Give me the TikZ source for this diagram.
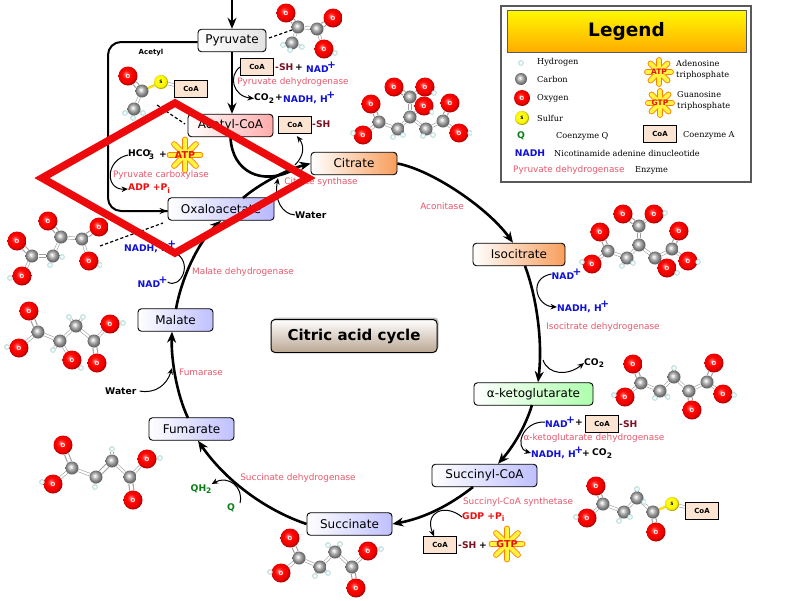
\documentclass[tikz,border=0pt]{standalone}
\usepackage{fontspec}
\setmainfont{DejaVu Sans}
\newfontfamily\legendfont{DejaVu Serif}
\usetikzlibrary{arrows.meta,shadows}
\pgfdeclarelayer{bg}
\pgfsetlayers{bg,main}

\definecolor{enzc}{RGB}{232,88,108}
\definecolor{nadc}{RGB}{16,16,215}
\definecolor{shc}{RGB}{122,16,32}
\definecolor{redc}{RGB}{236,16,16}
\definecolor{qc}{RGB}{10,125,20}
\definecolor{coac}{RGB}{252,228,210}
\definecolor{peach}{RGB}{248,158,92}
\definecolor{slash}{RGB}{236,10,12}

\pgfdeclareradialshading{oball}{\pgfpoint{-6bp}{6bp}}{color(0bp)=(white!65!red); color(6bp)=(red!80!white); color(12bp)=(red!95!orange); color(22bp)=(red!92!black); color(25bp)=(red!68!black); color(50bp)=(red!68!black)}
\pgfdeclareradialshading{cball}{\pgfpoint{-6bp}{6bp}}{color(0bp)=(white); color(7bp)=(gray!40); color(17bp)=(gray!90); color(25bp)=(black!62); color(50bp)=(black!62)}
\pgfdeclareradialshading{hball}{\pgfpoint{-6bp}{6bp}}{color(0bp)=(white); color(14bp)=(cyan!8); color(25bp)=(cyan!25!gray!70); color(50bp)=(cyan!25!gray!70)}
\pgfdeclareradialshading{sball}{\pgfpoint{-6bp}{6bp}}{color(0bp)=(white!60!yellow); color(8bp)=(yellow!90!white); color(21bp)=(yellow!90!orange); color(25bp)=(yellow!65!black); color(50bp)=(yellow!65!black)}

\newcommand\fsz[1]{\fontsize{#1}{#1}\selectfont}
\newcommand\up[1]{\kern-1.5pt\raisebox{.42em}{\fsz{10.5}#1}}
\newcommand\dn[1]{\raisebox{-.3em}{\fsz{7.5}#1}}

% name, atoms, single bonds, double bonds
\newcommand\molecule[4]{%
  \begin{scope}[name prefix=#1-]
    \foreach \n/\s/\x/\y in {#2}{\node[\s] (\n) at (\x,\y) {};}
    \begin{pgfonlayer}{bg}
      \foreach \a/\b in {#3}{\draw[bond] (\a) -- (\b);}
      \foreach \a/\b in {#4}{\draw[dbond] (\a) -- (\b);}
    \end{pgfonlayer}
  \end{scope}}

% name, x, y, radius, text
\newcommand\starbadge[5]{%
  \foreach \w/\c in {5.8/orange,4/yellow!75!white}{
    \foreach \t in {0,45,135,90}{
      \draw[line width=\w,line cap=round,\c] (#2,#3) ++(\t:#4) -- ++(\t+180:2*#4);
    }
  }
  \node[font=\bfseries\fsz{9.5},text=redc,inner sep=0] (#1) at (#2,#3) {#5};}

\tikzset{
  atomO/.style={circle,inner sep=0,minimum size=19,shading=oball,text=white,font=\bfseries\fsz{5.5},execute at begin node={O}},
  atomC/.style={circle,inner sep=0,minimum size=13,shading=cball,text=white,font=\fsz{3.5},execute at begin node={C}},
  atomH/.style={circle,inner sep=0,minimum size=5.5,shading=hball},
  atomS/.style={circle,inner sep=0,minimum size=14,shading=sball,text=black,font=\bfseries\fsz{4.5},execute at begin node={S}},
  bond/.style={draw=gray!75,line width=.6,double=white,double distance=2},
  dbond/.style={draw=gray!75,line width=1.1,double=white,double distance=3},
  sbond/.style={yellow!80!orange,line width=2.4},
  met/.style={draw=black,line width=.9,rounded corners=3.5,inner sep=0,minimum height=22.5,font=\fsz{12},left color=white},
  coa/.style={draw=black,line width=1,fill=coac,inner sep=0,minimum width=33,minimum height=16.5,font=\bfseries\fsz{7}},
  enz/.style={text=enzc,font=\fsz{8.9},inner sep=0},
  bl/.style={font=\bfseries\fsz{9.2},inner sep=0,anchor=west},
  nad/.style={bl,text=nadc},
  sh/.style={bl,text=shc},
  rd/.style={bl,text=redc},
  qq/.style={bl,text=qc},
  leg/.style={font=\legendfont\fsz{8.2},inner sep=0,anchor=west},
  cyc/.style={line width=2.6,-{Stealth[length=11,width=9]}},
  side/.style={line width=1,-{Stealth[length=6.5,width=5.5]}},
  dashlink/.style={line width=1.2,dash pattern=on 3.2 off 2.2},
}

\begin{document}
\begin{tikzpicture}[x=1pt,y=-1pt]
\useasboundingbox (0,0) rectangle (800,600);
\begin{pgfonlayer}{bg}
  \fill[white] (0,0) rectangle (800,600);
\end{pgfonlayer}

% metabolites
\node[met,right color=gray!22,minimum width=68] (pyr) at (232,40.5) {Pyruvate};
\node[met,right color=red!33,minimum width=85] (acoa) at (230.5,125.5) {Acetyl-CoA};
\node[met,right color=peach,minimum width=86] (cit) at (354,163.5) {Citrate};
\node[met,right color=blue!28,minimum width=106] (oxa) at (221,209) {Oxaloacetate};
\node[met,right color=peach,minimum width=92] (iso) at (519,254.5) {Isocitrate};
\node[met,right color=green!32,minimum width=119] (akg) at (533.5,394) {α-ketoglutarate};
\node[met,right color=blue!25,minimum width=105] (suc) at (484.5,475.5) {Succinyl-CoA};
\node[met,right color=blue!25,minimum width=85] (sin) at (349.5,524) {Succinate};
\node[met,right color=blue!25,minimum width=85] (fum) at (191.5,429) {Fumarate};
\node[met,right color=blue!25,minimum width=75] (mal) at (175.5,320) {Malate};
\node[draw=black,line width=1,rounded corners=4,inner sep=0,minimum width=166,minimum height=33,
  top color=white,bottom color=brown!45!gray!70,drop shadow={shadow xshift=1.5,shadow yshift=-2,opacity=.5},
  font=\bfseries\fsz{15}] (title) at (354,336) {Citric acid cycle};

% main cycle
\coordinate (topin) at (232,-2);
\coordinate (join) at (293,170);
\coordinate (ac1) at (108,42);
\coordinate (ac2) at (108,211);
\draw[cyc] (topin) -- (pyr.north);
\draw[cyc] (pyr.south) -- (pyr.south |- acoa.north);
\draw[line width=2,rounded corners=13] (pyr.west |- ac1) -- (ac1) -- (ac2) -- (oxa.west |- ac2);
\draw[-{Stealth[length=8,width=6]},line width=1.2] (130,211) -- (oxa.west |- ac2);
\draw[line width=2.6] (acoa.south) .. controls (232,172) and (262,186) .. (join);
\draw[cyc] (243,198) .. controls (258,185) and (285,170) .. (cit.west);
\draw[cyc] (cit.east) .. controls (432,170) and (488,208) .. (513,0 |- iso.north);
\draw[cyc] (525,266) .. controls (536,295) and (543,340) .. (538,0 |- akg.north);
\draw[cyc] (532,405) .. controls (525,428) and (512,448) .. (498,0 |- suc.north);
\draw[cyc] (473,487) .. controls (450,505) and (425,518) .. (sin.east);
\draw[cyc] (sin.west) .. controls (265,510) and (225,480) .. (198,0 |- fum.south);
\draw[cyc] (188,418) .. controls (177,395) and (171,360) .. (172,0 |- mal.south);
\draw[cyc] (176,309) .. controls (180,285) and (195,245) .. (oxa.south);

% cofactors: pyruvate dehydrogenase
\node[coa] (coa1) at (257,67) {CoA};
\node[sh] (sh1) at (275,67) {-SH};
\node[bl] (pl1) at (295,68) {+};
\node[nad] (nad1) at (306,67) {NAD\up{+}};
\node[enz] (pdh) at (293,82) {Pyruvate dehydrogenase};
\node[bl] (co2a) at (254,98.5) {CO\dn{2}};
\node[bl] (pl2) at (275,98) {+};
\node[nad] (nadh1) at (283,98) {NADH, H\up{+}};
\draw[side] (coa1.west) .. controls (228,76) and (233,96) .. (co2a.west);

% acetyl-CoA side
\node[font=\bfseries\fsz{7},inner sep=0] (acl) at (151,53) {Acetyl};
\node[coa] (coa2) at (191,89) {CoA};
\node[coa] (coa3) at (295,125) {CoA};
\node[sh] (sh3) at (312,124.5) {-SH};
\coordinate (cs1) at (295,165);
\draw[side,shorten >=3] (cs1) .. controls (305,155) and (304,145) .. (coa3.south);

% pyruvate carboxylase
\node[bl] (hco) at (128,155) {HCO\up{\fsz{7}-}\kern-3pt\dn{3}};
\node[bl] (pl3) at (159,155) {+};
\starbadge{atp}{185}{155}{15.5}{ATP}
\node[enz] (pc) at (161,175) {Pyruvate carboxylase};
\node[rd] (adp) at (128,189) {ADP +P\dn{i}};
\draw[side] (hco.west) .. controls (105,160) and (105,190) .. (adp.west);

% citrate synthase, water
\node[enz] (cs) at (321,182) {Citrate synthase};
\node[bl] (w1) at (295,215) {Water};
\coordinate (w1t) at (278,178);
\draw[side] (w1.west) .. controls (282,214) and (274,200) .. (w1t);

% aconitase and isocitrate dehydrogenase
\node[enz] (aco) at (442,206) {Aconitase};
\node[nad] (nad2) at (551.5,274) {NAD\up{+}};
\node[nad] (nadh2) at (557,307) {NADH, H\up{+}};
\draw[side] (nad2.west) .. controls (528,278) and (536,306) .. (nadh2.west);
\node[enz] (idh) at (603,327) {Isocitrate dehydrogenase};
\node[bl] (co2b) at (584,363) {CO\dn{2}};
\coordinate (co2s) at (543,360);
\draw[side] (co2s) .. controls (548,375) and (568,376) .. (co2b.west);

% ketoglutarate dehydrogenase
\node[nad] (nad3) at (545,422) {NAD\up{+}};
\node[bl] (pl4) at (575,423) {+};
\node[coa] (coa4) at (602,424) {CoA};
\node[sh] (sh4) at (619,424) {-SH};
\node[enz] (kdh) at (594,438) {α-ketoglutarate dehydrogenase};
\node[nad] (nadh3) at (531,453) {NADH, H\up{+}};
\node[bl] (pl5) at (582,454) {+};
\node[bl] (co2c) at (592,453.5) {CO\dn{2}};
\draw[side] (nad3.west) .. controls (522,421) and (514,448) .. (nadh3.west);

% succinyl-CoA synthetase
\node[enz] (scs) at (518,502) {Succinyl-CoA synthetase};
\node[rd] (gdp) at (462,517) {GDP +P\dn{i}};
\node[coa] (coa5) at (440,545) {CoA};
\node[sh] (sh5) at (458,545) {-SH};
\node[bl] (pl6) at (479,546) {+};
\starbadge{gtp}{507}{544}{15.5}{GTP}
\draw[side] (gdp.west) .. controls (445,503) and (424,512) .. (434,0 |- coa5.north);

% succinate dehydrogenase
\node[enz] (sdh) at (298,478) {Succinate dehydrogenase};
\node[qq] (qh) at (190.5,489) {QH\dn{2}};
\node[qq] (q1) at (227,508) {Q};
\coordinate (qtop) at (240,503);
\draw[side] (qtop) .. controls (244,487) and (228,475) .. (qh.north east);

% fumarase
\node[enz] (fma) at (201,372) {Fumarase};
\node[bl] (w2) at (105,391) {Water};
\coordinate (w2t) at (172,368);
\draw[side] (w2.east) ++(3,0) .. controls (155,394) and (167,385) .. (w2t);

% malate dehydrogenase
\node[enz] (mdh) at (243,272) {Malate dehydrogenase};
\node[nad] (nad4) at (137.5,282) {NAD\up{+}};
\node[nad] (nadh4) at (124,247) {NADH, H\up{+}};
\coordinate (nadt) at (170,250);
\draw[side] (nad4.east) .. controls (180,290) and (195,262) .. (nadt);

% molecules
\molecule{pyrm}{o1/atomO/286/13,o2/atomO/333/18,o3/atomO/324/49,c1/atomC/298/27,c2/atomC/317/29,c3/atomC/292/43,
  h1/atomH/283/45,h2/atomH/290/50,h3/atomH/302/47,h4/atomH/335/53}
  {c1/c2,c1/c3,c2/o3,c3/h1,c3/h2,c3/h3,o3/h4}{c1/o1,c2/o2}
\molecule{acm}{o1/atomO/128/76,c1/atomC/142/91,s1/atomS/161/82,c2/atomC/134/109,
  h1/atomH/125/113,h2/atomH/133/118,h3/atomH/143/113}
  {c1/c2,c2/h1,c2/h2,c2/h3}{c1/o1}
\molecule{citm}{o1/atomO/371/104,c1/atomC/379/122,o2/atomO/363/135,h1/atomH/353/133,c2/atomC/398/129,h2/atomH/393/137,h3/atomH/403/135,
  c3/atomC/410/117,c4/atomC/410/97,o3/atomO/394/87,o4/atomO/425/87,h4/atomH/434/93,o5/atomO/424/106,h5/atomH/432/112,
  c5/atomC/426/129,h6/atomH/423/136,h7/atomH/433/135,c6/atomC/443/121,o6/atomO/450/103,o7/atomO/459/133,h8/atomH/470/133}
  {c1/o2,o2/h1,c1/c2,c2/h2,c2/h3,c2/c3,c3/c4,c4/o4,o4/h4,c3/o5,o5/h5,c3/c5,c5/h6,c5/h7,c5/c6,c6/o7,o7/h8}{c1/o1,c4/o3,c6/o6}
\molecule{oxam}{o1/atomO/17/241,c1/atomC/32/256,o2/atomO/22/276,h1/atomH/10/278,c2/atomC/53/256,h2/atomH/50/265,h3/atomH/62/257,
  c3/atomC/61/237,o3/atomO/48/221,c4/atomC/82/239,o4/atomO/99/227,o5/atomO/89/261,h4/atomH/100/265}
  {c1/o2,o2/h1,c1/c2,c2/h2,c2/h3,c2/c3,c3/c4,c4/o5,o5/h4}{c1/o1,c3/o3,c4/o4}
\molecule{malm}{o1/atomO/29/311,c1/atomC/38/332,o2/atomO/19/348,h1/atomH/7/347,c2/atomC/60/341,h2/atomH/53/350,o3/atomO/72/360,h3/atomH/81/368,
  c3/atomC/76/326,h4/atomH/69/317,h5/atomH/83/317,c4/atomC/94/341,o4/atomO/110/324,h6/atomH/123/323,o5/atomO/97/363}
  {c1/o2,o2/h1,c1/c2,c2/h2,c2/o3,o3/h3,c2/c3,c3/h4,c3/h5,c3/c4,c4/o4,o4/h6}{c1/o1,c4/o5}
\molecule{fumm}{o1/atomO/63/445,c1/atomC/72/468,o2/atomO/53/484,h1/atomH/42/482,c2/atomC/96/477,h2/atomH/95/487,
  c3/atomC/112/461,h3/atomH/112/449,c4/atomC/130/477,o3/atomO/147/459,h4/atomH/160/458,o4/atomO/133/500}
  {c1/o2,o2/h1,c1/c2,c2/h2,c3/h3,c3/c4,c4/o3,o3/h4}{c1/o1,c2/c3,c4/o4}
\molecule{sinm}{o1/atomO/290/538,c1/atomC/299/558,o2/atomO/281/573,h1/atomH/270/572,c2/atomC/320/567,h2/atomH/315/576,h3/atomH/328/573,
  c3/atomC/335/552,h4/atomH/328/545,h5/atomH/340/544,c4/atomC/352/567,o3/atomO/368/551,h6/atomH/381/549,o4/atomO/356/588}
  {c1/o2,o2/h1,c1/c2,c2/h2,c2/h3,c2/c3,c3/h4,c3/h5,c3/c4,c4/o3,o3/h6}{c1/o1,c4/o4}
\molecule{scm}{o1/atomO/596/486,c1/atomC/603/504,o2/atomO/587/518,h1/atomH/576/517,c2/atomC/624/512,h2/atomH/619/521,h3/atomH/630/517,
  c3/atomC/637/498,h4/atomH/637/489,h5/atomH/644/502,c4/atomC/653/512,o3/atomO/656/532,s1/atomS/672/504}
  {c1/o2,o2/h1,c1/c2,c2/h2,c2/h3,c2/c3,c3/h4,c3/h5,c3/c4}{c1/o1,c4/o3}
\molecule{isom}{o1/atomO/600/232,c1/atomC/608/251,o2/atomO/592/264,h1/atomH/582/262,c2/atomC/627/258,h2/atomH/622/266,h3/atomH/633/263,
  c3/atomC/639/245,c4/atomC/639/226,o3/atomO/623/214,o4/atomO/654/214,h4/atomH/665/213,o5/atomO/667/268,h5/atomH/677/273,
  c5/atomC/655/258,c6/atomC/672/249,o6/atomO/679/231,o7/atomO/688/261,h6/atomH/698/262}
  {c1/o2,o2/h1,c1/c2,c2/h2,c2/h3,c2/c3,c3/c4,c4/o4,o4/h4,c3/c5,c5/o5,o5/h5,c5/c6,c6/o7,o7/h6}{c1/o1,c4/o3,c6/o6}
\molecule{akgm}{o1/atomO/633/364,c1/atomC/641/383,o2/atomO/625/397,h1/atomH/614/395,c2/atomC/660/391,h2/atomH/655/398,h3/atomH/668/397,
  c3/atomC/674/377,h4/atomH/674/368,c4/atomC/689/391,o3/atomO/692/410,c5/atomC/707/382,o4/atomO/714/363,o5/atomO/723/394,h5/atomH/734/395}
  {c1/o2,o2/h1,c1/c2,c2/h2,c2/h3,c2/c3,c3/h4,c3/c4,c4/c5,c5/o5,o5/h5}{c1/o1,c4/o3,c5/o4}

% sulfur links and CoA of the molecules
\node[coa] (coa6) at (702,511) {CoA};
\begin{pgfonlayer}{bg}
  \draw[sbond] (acm-c1) -- (acm-s1);
  \draw[bond] (acm-s1) -- (coa2);
  \draw[sbond] (scm-c4) -- (scm-s1);
  \draw[bond] (scm-s1) -- (coa6);
\end{pgfonlayer}

% dashed links to the molecules
\coordinate (d1) at (269,38);
\coordinate (d2) at (292,30);
\coordinate (d3) at (157,105);
\coordinate (d4) at (185,124);
\coordinate (d5) at (100,246);
\coordinate (d6) at (163,223);
\draw[dashlink] (d1) -- (d2);
\draw[dashlink] (d3) -- (d4);
\draw[dashlink] (d5) -- (d6);

% legend
\node[draw=gray!70!black,line width=1.6,fill=white,inner sep=0,minimum width=250,minimum height=176,
  drop shadow={shadow xshift=.8,shadow yshift=-.8,opacity=.4}] (legbox) at (626,94) {};
\node[draw=gray!70!black,line width=.7,inner sep=0,minimum width=239,minimum height=42,
  top color=yellow!95!orange,bottom color=orange!65!yellow,font=\bfseries\fsz{18.5}] (legtitle) at (626.5,31) {Legend};
\node[atomH] (lh) at (521,63) {};
\node[atomC,minimum size=12] (lc) at (521,79) {};
\node[atomO,minimum size=16] (lo) at (522,98) {};
\node[atomS] (ls) at (522,118) {};
\node[leg] (lt1) at (537,62) {Hydrogen};
\node[leg] (lt2) at (537,79) {Carbon};
\node[leg] (lt3) at (537,98) {Oxygen};
\node[leg] (lt4) at (537,118) {Sulfur};
\node[qq,anchor=center] (lq) at (521,136) {Q};
\node[leg] (lt5) at (556,136) {Coenzyme Q};
\node[nad,anchor=center] (ln) at (530,153) {NADH};
\node[leg] (lt6) at (554,153.5) {Nicotinamide adenine dinucleotide};
\node[enz,anchor=west] (lpd) at (513,170) {Pyruvate dehydrogenase};
\node[leg] (lt7) at (635,170) {Enzyme};
\starbadge{latp}{659}{72}{12}{\fsz{7.5}ATP}
\starbadge{lgtp}{660}{103}{12}{\fsz{7.5}GTP}
\node[leg,align=left] (lt8) at (676,70) {Adenosine\\[3pt]triphosphate};
\node[leg,align=left] (lt9) at (677,101) {Guanosine\\[3pt]triphosphate};
\node[coa] (lcoa) at (660,134) {CoA};
\node[leg] (lt10) at (683,135) {Coenzyme A};

% red diamond on top
\draw[slash,line width=7.5,miter limit=10] (175,103) -- (42,178) -- (175,253) -- (308,178) -- cycle;
\end{tikzpicture}
\end{document}
